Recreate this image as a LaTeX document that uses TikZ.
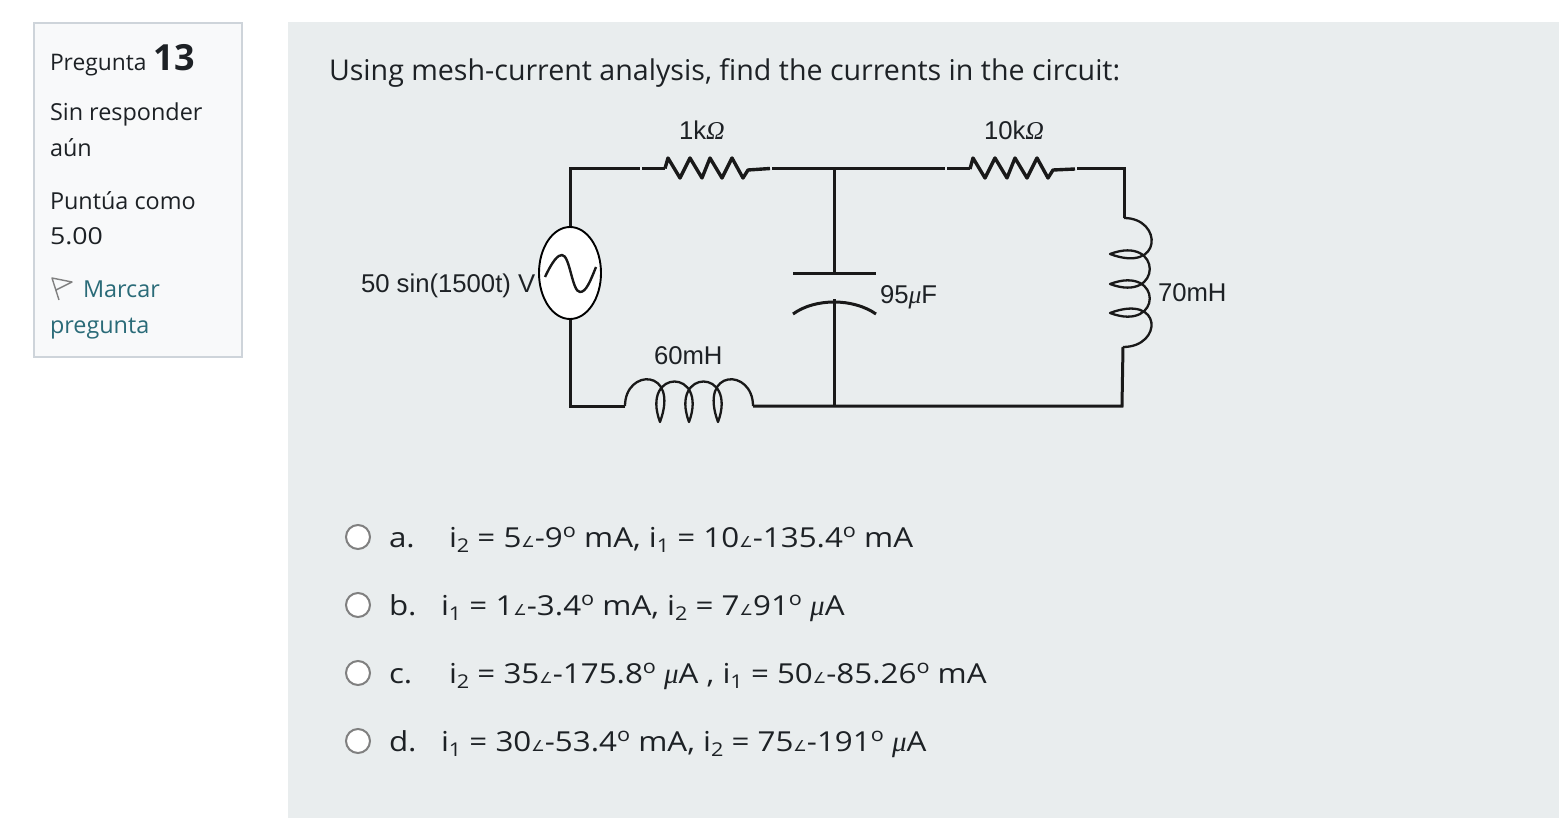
\documentclass[tikz,border=0pt]{standalone}
\usepackage{fontspec}
\usetikzlibrary{shapes.geometric}
\setmainfont{Open Sans}
\newfontfamily\arialf{Liberation Sans}
\newfontfamily\serf{Liberation Serif}
\newfontfamily\dvf{DejaVu Sans}
\newfontfamily\ansf[FakeStretch=1.14]{Open Sans}
\definecolor{panelbg}{HTML}{E9EDEE}
\definecolor{boxbg}{HTML}{F8F9FA}
\definecolor{boxline}{HTML}{CED4DA}
\definecolor{linkc}{HTML}{2A6B78}
\definecolor{inkc}{HTML}{1D2125}
\newcommand{\fsz}[1]{\fontsize{#1}{#1}\selectfont}
\newcommand{\sbs}[1]{\raisebox{-5pt}{\fsz{19}#1}}
\newcommand{\degs}{\raisebox{10pt}{\fsz{19}o}}
\newcommand{\ang}{{\dvf\fsz{15}∠}}
\newcommand{\muu}{{\serf\itshape\fsz{29}μ}}
\newcommand{\ohm}{{\serf\itshape Ω}}
\newcommand{\mufar}{{\serf\itshape μ}}
\tikzset{
  txt/.style={anchor=base west,inner sep=0pt,outer sep=0pt,text=inkc,font=\fsz{23.4}},
  link/.style={txt,text=linkc},
  ans/.style={txt,font=\ansf\fsz{27.5}},
  lab/.style={anchor=base west,inner sep=0pt,outer sep=0pt,text=inkc,font=\arialf\fsz{25.7}},
  wire/.style={draw=black!90,line width=3pt,line join=miter},
  thinw/.style={draw=black!90,line width=2.3pt,line join=round},
  zig/.style={draw=black!90,line width=3.4pt,line join=round},
  radio/.style={circle,draw=black!50,line width=2pt,fill=white,minimum size=24pt,inner sep=0pt}
}
\begin{document}
\begin{tikzpicture}[x=1pt,y=-1pt]
\useasboundingbox (0,0) rectangle (1559,832);
\fill[white] (0,0) rectangle (1559,832);
\fill[panelbg] (288,22) rectangle (1559,818);
\filldraw[fill=boxbg,draw=boxline,line width=2pt] (34,23) rectangle (242,357);

% side box
\node[txt,font=\fsz{22.8}] (preg) at (50,71) {Pregunta};
\node[txt,font=\bfseries\fsz{36}] (num) at (153.5,71) {13};
\node[txt] (sin) at (50,120.5) {Sin responder};
\node[txt] (aun) at (50,156.5) {aún};
\node[txt] (punt) at (50,209) {Puntúa como};
\node[txt,font=\ansf\fsz{23.4}] (five) at (50,244.5) {5.00};
\node[link] (marcar) at (83,297) {Marcar};
\node[link] (pregl) at (50,333) {pregunta};
\draw[draw=black!50,line width=1.4pt,line join=round] (59,300) -- (52,278) -- (72,282) -- (56,290);

% question
\node[txt,font=\fsz{28.6}] (q) at (329,81) {Using mesh-current analysis, find the currents in the circuit:};

% circuit junctions
\coordinate (tl) at (570,168.5);
\coordinate (r1a) at (640,168.5);
\coordinate (r1b) at (642,168.5);
\coordinate (r1c) at (665,168.5);
\coordinate (r1e) at (770,168.5);
\coordinate (r2s) at (772,168.5);
\coordinate (tm) at (834,168.5);
\coordinate (r2a) at (945,168.5);
\coordinate (r2b) at (947,169);
\coordinate (r2c) at (970,169);
\coordinate (r2e) at (1075,169);
\coordinate (r2f) at (1077,169);
\coordinate (tr) at (1124,169);
\coordinate (lr1) at (1124,218);
\coordinate (lr2) at (1123,347);
\coordinate (br) at (1122,406);
\coordinate (bm) at (834,406);
\coordinate (bl) at (570,406);
\coordinate (l1a) at (625,406);
\coordinate (l1b) at (753,406);
\coordinate (cap1) at (834,273);
\coordinate (cap2) at (834,299);

\node[ellipse,draw=black,fill=white,line width=1.9pt,minimum width=62pt,minimum height=92pt,inner sep=0pt] (src) at (570,273) {};

% wires
\draw[wire] (src.north) -- (tl) -- (r1a);
\draw[wire] (r1b) -- (r1c);
\draw[zig] (r1c) -- (668,158) -- (680,178) -- (690,158) -- (702,178) -- (710,158) -- (722,178) -- (732,158) -- (743,178) -- (748,170) -- (r1e);
\draw[wire] (r2s) -- (tm) -- (r2a);
\draw[wire] (r2b) -- (r2c);
\draw[zig] (r2c) -- (973,158) -- (985,178) -- (995,158) -- (1007,178) -- (1015,158) -- (1027,178) -- (1037,158) -- (1048,178) -- (1053,170) -- (r2e);
\draw[wire] (r2f) -- (tr) -- (lr1);
\draw[wire] (lr2) -- (br) -- (l1b);
\draw[wire] (l1a) -- (bl) -- (src.south);
\draw[wire] (tm) -- (cap1);
\draw[wire] (cap2) -- (bm);
\draw[wire] (793,273) -- (876,273);
\draw[wire] (793,314) .. controls (815,298) and (853,298) .. (876,314);

% sine
\draw[thinw,line width=2.4pt] (545,277) .. controls (553,260) and (558,255) .. (562,255) .. controls (570,255) and (572,292) .. (580,292) .. controls (586,292) and (590,282) .. (596,267);

% coils
\draw[thinw] (l1a) .. controls (625,368) and (680,368) .. (660,422)
  .. controls (640,368) and (709,368) .. (689,422)
  .. controls (669,368) and (738,368) .. (718,422)
  .. controls (698,368) and (753,368) .. (l1b);
\draw[thinw] (lr1) .. controls (1163,218) and (1163,274) .. (1110,254)
  .. controls (1163,234) and (1163,304) .. (1110,284)
  .. controls (1163,264) and (1163,333) .. (1110,313)
  .. controls (1163,293) and (1163,347) .. (lr2);

% labels
\node[lab] (l1k) at (679,140) {1k\ohm};
\node[lab] (l10k) at (984,140) {10k\ohm};
\node[lab] (lv) at (361,292) {50 sin(1500t) V};
\node[lab] (l60) at (654,364) {60mH};
\node[lab] (l95) at (880,303) {95\mufar F};
\node[lab] (l70) at (1158,301) {70mH};

% answers
\node[radio] (ra) at (358,537) {};
\node[radio] (rb) at (358,605) {};
\node[radio] (rc) at (358,673) {};
\node[radio] (rd) at (358,741) {};
\node[ans] (a) at (389,547) {a.};
\node[ans] (b) at (389,615) {b.};
\node[ans] (c) at (389,683) {c.};
\node[ans] (d) at (389,751) {d.};
\node[ans] (atx) at (449,547) {i\sbs{2} = 5\ang-9\degs{} mA, i\sbs{1} = 10\ang-135.4\degs{} mA};
\node[ans] (btx) at (441,615) {i\sbs{1} = 1\ang-3.4\degs{} mA, i\sbs{2} = 7\ang91\degs{} \muu A};
\node[ans] (ctx) at (449,683) {i\sbs{2} = 35\ang-175.8\degs{} \muu A , i\sbs{1} = 50\ang-85.26\degs{} mA};
\node[ans] (dtx) at (441,751) {i\sbs{1} = 30\ang-53.4\degs{} mA, i\sbs{2} = 75\ang-191\degs{} \muu A};
\end{tikzpicture}
\end{document}
